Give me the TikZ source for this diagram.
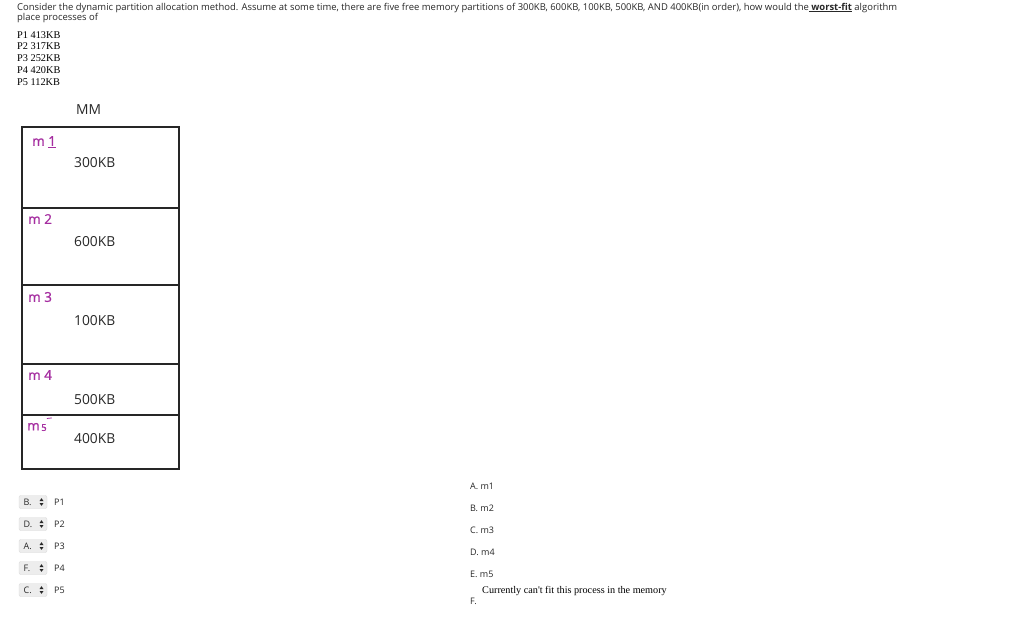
\documentclass[tikz,border=0pt]{standalone}
\usepackage{fontspec}
\setmainfont{Open Sans}
\newfontfamily\serifP{Liberation Serif}
\newfontfamily\handf[FakeBold=1.2]{Open Sans}
\usetikzlibrary{calc}
\definecolor{hand}{RGB}{165,45,160}
\definecolor{txt}{RGB}{40,40,40}
\begin{document}
\begin{tikzpicture}[x=1pt,y=-1pt,
  hdr/.style={anchor=base west,inner sep=0pt,font=\fontsize{9.45}{11}\selectfont,text=txt},
  proc/.style={anchor=base west,inner sep=0pt,font=\serifP\fontsize{10.3}{12}\selectfont,text=black},
  part/.style={draw=black!85,line width=1.4pt},
  size/.style={anchor=west,inner sep=0pt,font=\fontsize{13.8}{15}\selectfont,text=txt},
  mlab/.style={anchor=west,inner sep=0pt,font=\handf\fontsize{13.5}{15}\selectfont,text=hand},
  ddbox/.style={draw=black!15,fill=black!7,rounded corners=2pt,minimum width=28pt,minimum height=13pt,inner sep=0pt},
  ddtxt/.style={anchor=west,inner sep=0pt,font=\fontsize{9}{10}\selectfont,text=txt},
  opt/.style={anchor=west,inner sep=0pt,font=\fontsize{9}{10}\selectfont,text=txt}]
\useasboundingbox[fill=white] (0,0) rectangle (1024,632);
% header
\node[hdr] (h1) at (17,10) {Consider the dynamic partition allocation method. Assume at some time, there are five free memory partitions of 300KB, 600KB, 100KB, 500KB, AND 400KB(in order), how would the\underline{ \textbf{worst-fit}} algorithm};
\node[hdr] (h2) at (17,20.5) {place processes of};
\node[proc] (p1) at (17,38) {P1 413KB};
\node[proc] (p2) at (17,49) {P2 317KB};
\node[proc] (p3) at (17,61) {P3 252KB};
\node[proc] (p4) at (17,73) {P4 420KB};
\node[proc] (p5) at (17,85) {P5 112KB};
% memory map
\node[anchor=center,inner sep=0pt,font=\fontsize{13.8}{15}\selectfont,text=txt] (mm) at (88.5,110) {MM};
\draw[part] (22,127) rectangle (179,208);
\draw[part] (22,208) rectangle (179,285);
\draw[part] (22,285) rectangle (179,364);
\draw[part] (22,364) rectangle (179,415);
\draw[part] (22,415) rectangle (179,469);
\node[size] (s1) at (74,163) {300KB};
\node[size] (s2) at (74,242) {600KB};
\node[size] (s3) at (74,321) {100KB};
\node[size] (s4) at (74,400) {500KB};
\node[size] (s5) at (74,439) {400KB};
\node[mlab] (m1) at (32,142) {m \underline{1}};
\node[mlab] (m2) at (28,219) {m 2};
\node[mlab] (m3) at (28,297) {m 3};
\node[mlab] (m4) at (28,375) {m 4};
\node[mlab] (m5) at (27,427) {m\hspace{1.5pt}\raisebox{-0.5pt}{\fontsize{9.5}{10}\selectfont 5}};
\draw[hand,line width=0.8pt] (m5.east) ++(0,-8.5) -- ++(5,-0.6);
% dropdowns
\foreach \i/\l/\y in {1/B./502,2/D./524,3/A./546,4/F./568,5/C./590}{
  \node[ddbox] (d\i) at (33,\y) {};
  \node[ddtxt] (dl\i) at (23.5,\y) {\l};
  \fill[txt] (39.5,\y-1) -- (43.5,\y-1) -- (41.5,\y-3.8) -- cycle;
  \fill[txt] (39.5,\y+1) -- (43.5,\y+1) -- (41.5,\y+3.8) -- cycle;
  \node[ddtxt] (dp\i) at (54,\y) {P\i};
}
% options
\node[opt] (oA) at (470,486) {A. m1};
\node[opt] (oB) at (470,508) {B. m2};
\node[opt] (oC) at (470,530) {C. m3};
\node[opt] (oD) at (470,552) {D. m4};
\node[opt] (oE) at (470,574) {E. m5};
\node[anchor=west,inner sep=0pt,font=\serifP\fontsize{10.2}{12}\selectfont] (oFt) at (482,591) {Currently can't fit this process in the memory};
\node[opt] (oF) at (470,601) {F.};
\end{tikzpicture}
\end{document}
